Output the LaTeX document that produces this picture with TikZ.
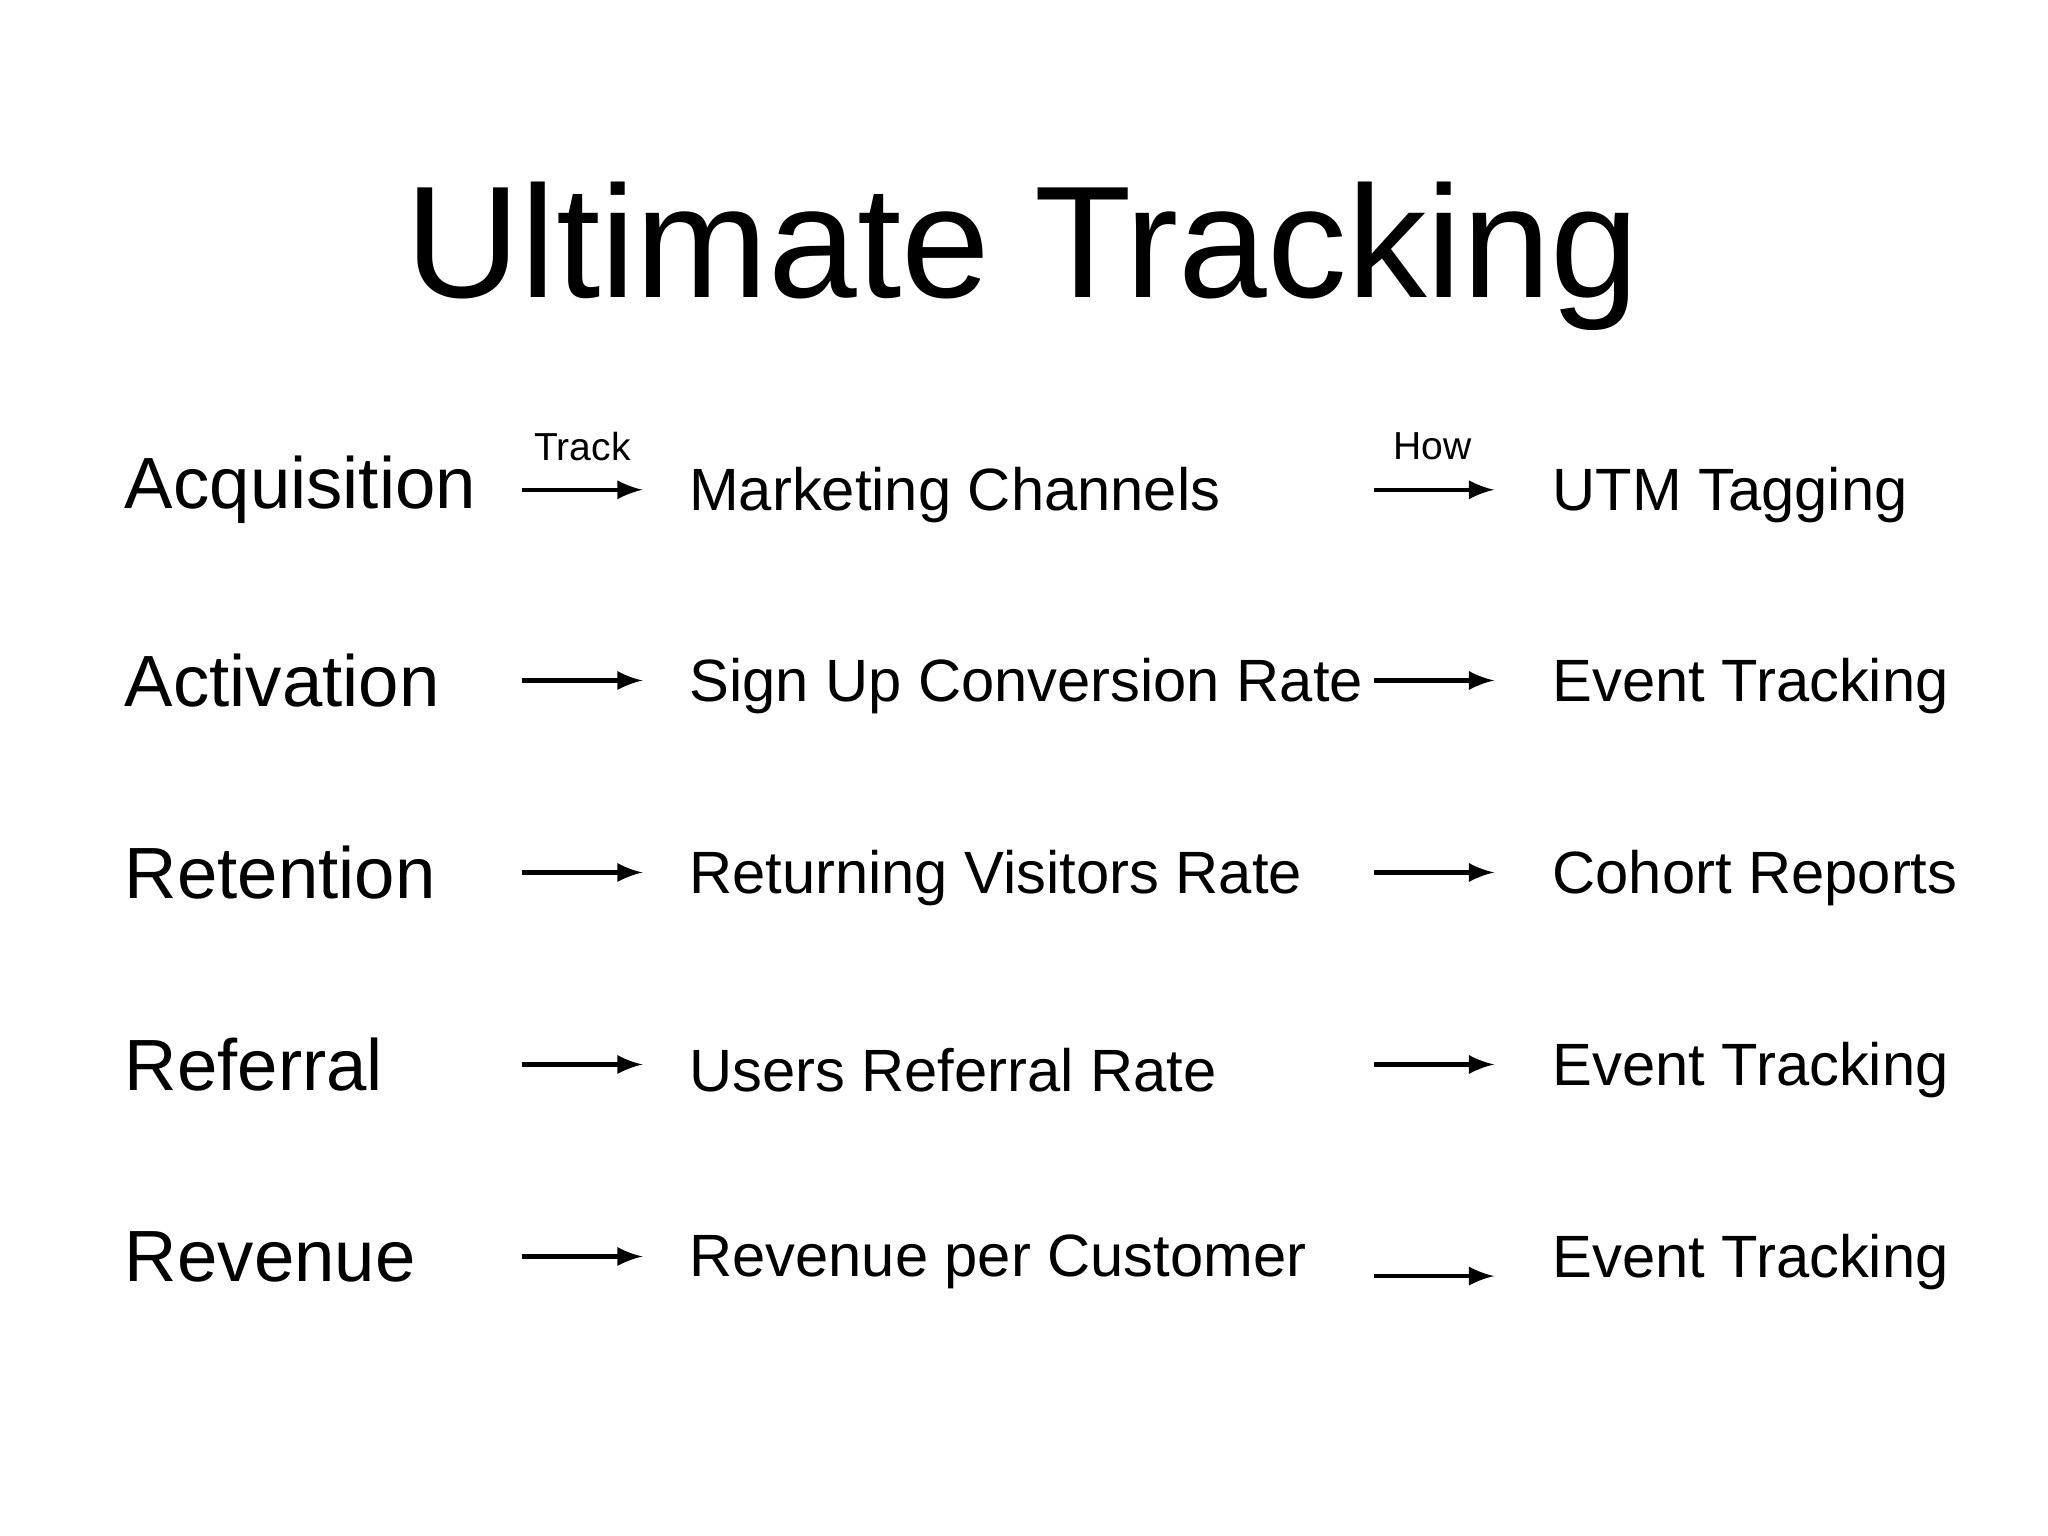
\documentclass[tikz,border=0pt]{standalone}
\usepackage{fontspec}
\setmainfont{Liberation Sans}
\begin{document}
\begin{tikzpicture}[x=0.01cm,y=-0.01cm,
  stage/.style={anchor=west,inner sep=0pt,font=\fontsize{15.8}{18}\selectfont},
  metric/.style={anchor=west,inner sep=0pt,font=\fontsize{13}{16}\selectfont},
  lbl/.style={inner sep=0pt,font=\fontsize{8.5}{10}\selectfont},
  arr/.style={-latex,line width=0.9pt}]
\useasboundingbox (0,0) rectangle (1568,1176);
\node[inner sep=0pt,font=\fontsize{34.7}{40}\selectfont] (title) at (783,196) {Ultimate Tracking};
\foreach \i/\y/\a/\b/\c in {1/375/Acquisition/Marketing Channels/UTM Tagging,
  2/521/Activation/Sign Up Conversion Rate/Event Tracking,
  3/668/Retention/Returning Visitors Rate/Cohort Reports,
  4/815/Referral/Users Referral Rate/Event Tracking,
  5/962/Revenue/Revenue per Customer/Event Tracking}{
  \node[stage] (s\i) at (95,\y) {\a};
  \node[metric] (m\i) at (527,\y+4) {\b};
  \node[metric] (h\i) at (1188,\y+4) {\c};
  \coordinate (a\i) at (400,\y); \coordinate (b\i) at (492,\y);
  \draw[arr] (a\i) -- (b\i);
}
\foreach \i/\y in {1/375,2/521,3/668,4/815,5/977}{
  \coordinate (c\i) at (1052,\y); \coordinate (d\i) at (1144,\y);
  \draw[arr] (c\i) -- (d\i);
}
\node[lbl] (track) at (446,342) {Track};
\node[lbl] (how) at (1097,342) {How};
\end{tikzpicture}
\end{document}
